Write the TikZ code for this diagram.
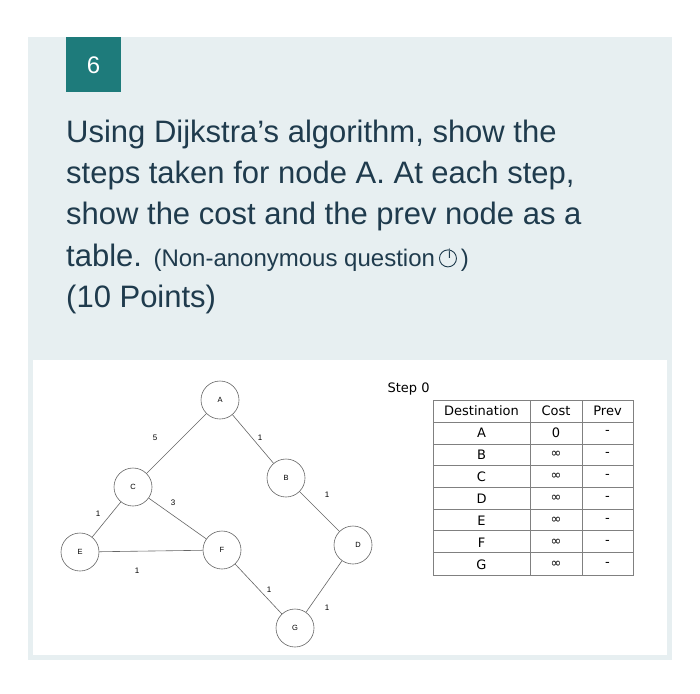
\documentclass[tikz,border=0pt]{standalone}
\usepackage{fontspec}
\setmainfont{Liberation Sans}
\newfontfamily\dv{DejaVu Sans}
\definecolor{panel}{HTML}{E7EFF1}
\definecolor{teal6}{HTML}{1E7B7B}
\definecolor{txt}{HTML}{1F3B4D}
\begin{document}
\begin{tikzpicture}[x=1pt,y=-1pt,
  gn/.style={circle,draw=black!60,line width=0.6pt,minimum size=38pt,inner sep=0pt,font=\fontsize{7.5}{8}\selectfont},
  ed/.style={draw=black!60,line width=0.6pt},
  wl/.style={font=\fontsize{8}{9}\selectfont},
  tb/.style={draw=black!50,line width=0.5pt},
  tt/.style={font=\dv\fontsize{13}{15}\selectfont},
  q/.style={anchor=base west,text=txt,inner sep=0pt,font=\fontsize{31}{34}\selectfont}]
\useasboundingbox (0,0) rectangle (700,693);
\fill[white] (0,0) rectangle (700,693);
\fill[panel] (28,37) rectangle (672,660);
\fill[white] (33,360) rectangle (667,655);
\fill[teal6] (66,37) rectangle (121,92);
\node[text=white,font=\fontsize{24}{26}\selectfont] (num) at (93.5,65) {6};
\node[q] (l1) at (66,142) {Using Dijkstra’s algorithm, show the};
\node[q] (l2) at (66,183) {steps taken for node A. At each step,};
\node[q] (l3) at (66,224) {show the cost and the prev node as a};
\node[q] (l4) at (66,266) {table. {\fontsize{24}{26}\selectfont (Non-anonymous question\,\tikz[baseline=-0.6ex,x=1pt,y=1pt]{\draw[txt,line width=0.9pt] (0,0) circle (8.5);\node[text=txt,font=\fontsize{13}{14}\selectfont,inner sep=0pt] at (0,0) {i};}\,)}};
\node[q] (l5) at (66,307) {(10 Points)};
% graph
\node[gn] (A) at (220,400) {A};
\node[gn] (C) at (133,487) {C};
\node[gn] (B) at (286,478) {B};
\node[gn] (E) at (80,552) {E};
\node[gn] (F) at (222,550) {F};
\node[gn] (D) at (353,545) {\hspace{10pt}D};
\node[gn] (G) at (295,628) {G};
\draw[ed] (A)--(C); \draw[ed] (A)--(B); \draw[ed] (B)--(D);
\draw[ed] (C)--(E); \draw[ed] (C)--(F); \draw[ed] (E)--(F);
\draw[ed] (F)--(G); \draw[ed] (G)--(D);
\node[wl] (w1) at (155,438) {5};
\node[wl] (w2) at (260,438) {1};
\node[wl] (w3) at (327,495) {1};
\node[wl] (w4) at (173,503) {3};
\node[wl] (w5) at (98,514) {1};
\node[wl] (w6) at (137,571) {1};
\node[wl] (w7) at (269,590) {1};
\node[wl] (w8) at (327,608) {1};
% table
\node[tt,anchor=west] (st) at (384,389) {Step 0};
\draw[tb] (433,400) rectangle (633,575);
\draw[tb] (530,400) -- (530,575);
\draw[tb] (582,400) -- (582,575);
\foreach \y in {422,444,465,487,509,530,552} \draw[tb] (433,\y) -- (633,\y);
\node[tt] (h1) at (481.5,411) {Destination};
\node[tt] (h2) at (556,411) {Cost};
\node[tt] (h3) at (607.5,411) {Prev};
\foreach \n/\c [count=\i] in {A/0,B/∞,C/∞,D/∞,E/∞,F/∞,G/∞}{
  \pgfmathsetmacro\yy{422+21.9*(\i-1)+10.9}
  \node[tt] at (481.5,\yy) {\n};
  \node[tt] at (556,\yy) {\c};
  \node[tt] at (607.5,\yy) {-};
}
\end{tikzpicture}
\end{document}
